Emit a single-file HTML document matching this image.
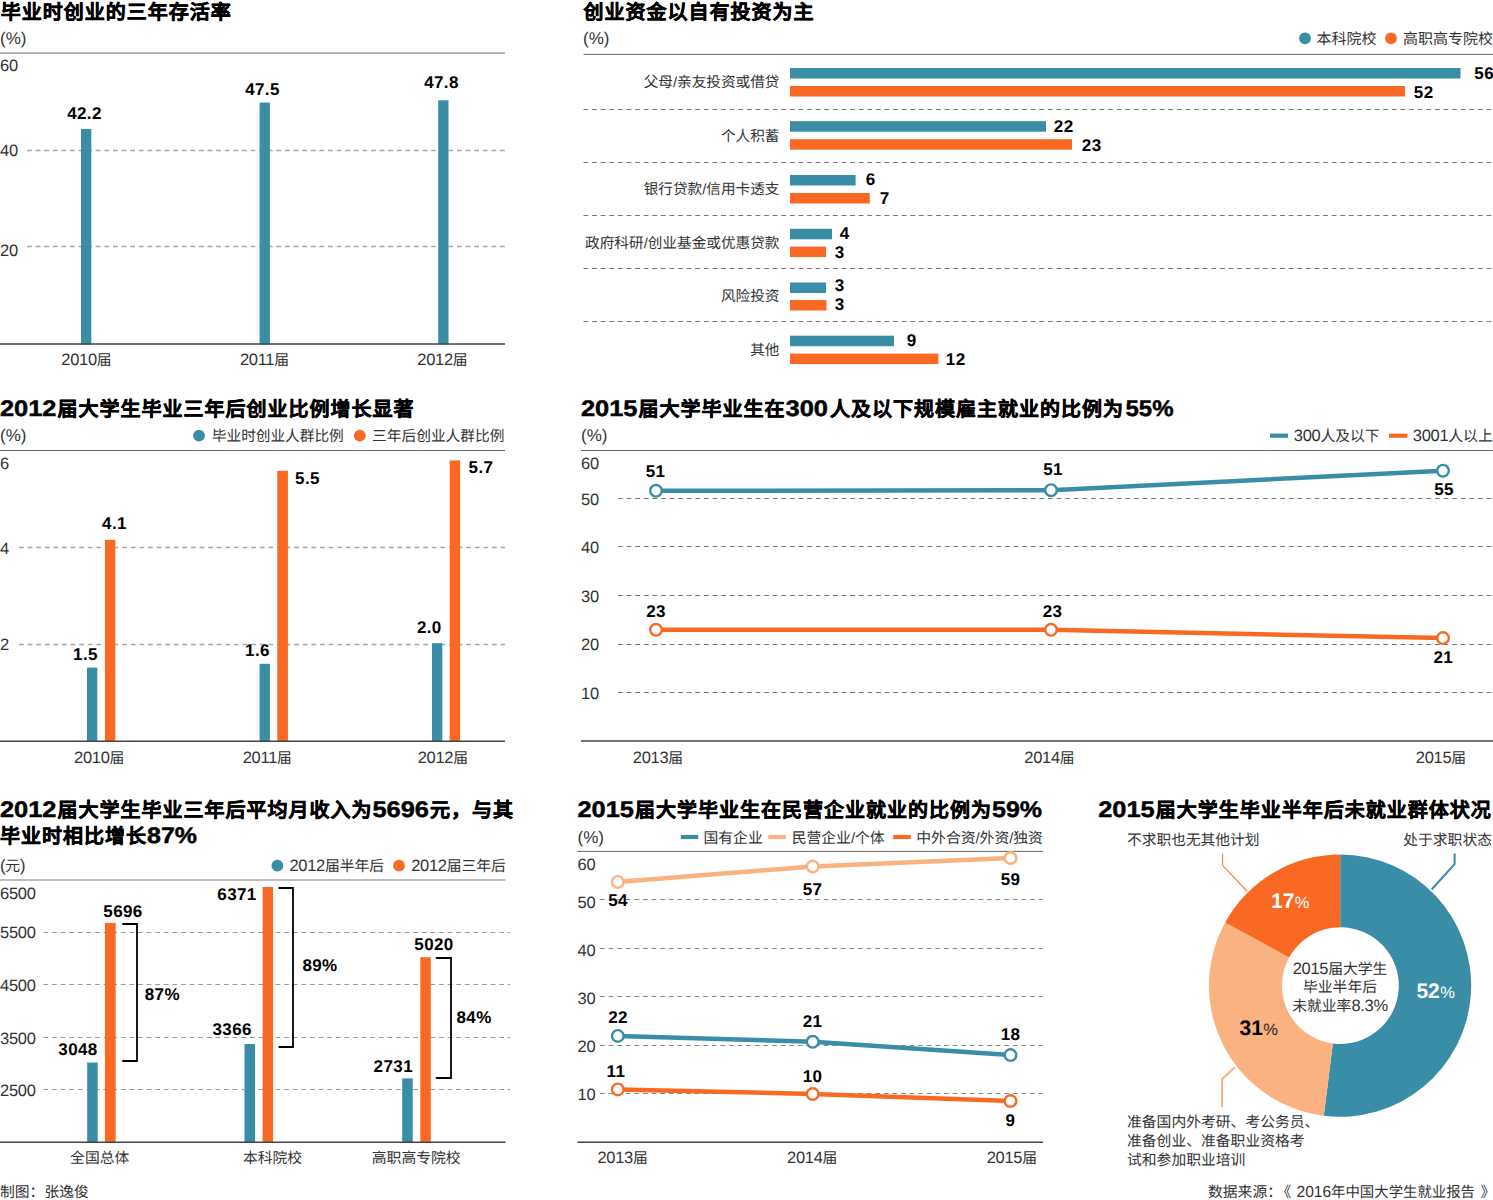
<!DOCTYPE html>
<html lang="zh-CN">
<head>
<meta charset="utf-8">
<title>大学生就业与创业图表</title>
<style>
html,body{margin:0;padding:0;background:#fff;}
body{width:1493px;height:1200px;overflow:hidden;font-family:"Liberation Sans",sans-serif;}
svg{display:block;position:absolute;left:0;top:0;}
text{font-family:"Liberation Sans",sans-serif;text-rendering:geometricPrecision;}
.t{font-weight:bold;font-size:20px;fill:#000;letter-spacing:1px;stroke:#000;stroke-width:0.45px;}
.n{font-size:22.5px;letter-spacing:0;}
.a{font-size:16.5px;fill:#333;letter-spacing:-0.3px;}
.c{font-size:14.8px;fill:#333;letter-spacing:0;}
.c2{font-size:14.65px;fill:#333;}
.p{font-size:17px;fill:#333;}
.v{font-weight:bold;font-size:17px;fill:#000;letter-spacing:0.4px;}
.m{text-anchor:middle;}
.e{text-anchor:end;}
.g{stroke:#777;stroke-width:1;stroke-dasharray:4.8 3.8;fill:none;}
#p1 .g,#p3 .g{stroke:#a8a8a8;stroke-width:1.4;}
#p5 .g{stroke:#9a9a9a;stroke-width:1.2;}
#p6 .g{stroke:#888;}
.r{stroke:#666;stroke-width:1;fill:none;}
.r2{stroke:#a8a8a8;stroke-width:1.7;fill:none;}
.x{stroke:#444;stroke-width:1.6;fill:none;}
.b{fill:#3a8da6;}
.o{fill:#fa6923;}
.l{fill:#fab280;}
.k{stroke:#000;stroke-width:1.8;fill:none;stroke-linejoin:miter;}
</style>
</head>
<body>
<svg width="1493" height="1200" viewBox="0 0 1493 1200">
<rect x="0" y="0" width="1493" height="1200" fill="#fff"/>

<!-- ============ Panel 1: 三年存活率 ============ -->
<g id="p1">
<text class="t" x="0.8" y="18.5">毕业时创业的三年存活率</text>
<text class="p" x="0" y="44">(%)</text>
<line class="r2" x1="0" y1="53.2" x2="505" y2="53.2"/>
<line class="g" x1="27" y1="150.5" x2="505" y2="150.5"/>
<line class="g" x1="27" y1="246.5" x2="505" y2="246.5"/>
<text class="a" x="0" y="71">60</text>
<text class="a" x="0" y="156">40</text>
<text class="a" x="0" y="256">20</text>
<rect class="b" x="81" y="129" width="10.3" height="215.5"/>
<rect class="b" x="259.6" y="102.6" width="10.3" height="242"/>
<rect class="b" x="438.2" y="100.3" width="10.3" height="244"/>
<line class="x" x1="0" y1="344" x2="505" y2="344"/>
<text class="v m" x="84.5" y="118.5">42.2</text>
<text class="v m" x="262.5" y="94.5">47.5</text>
<text class="v m" x="441.5" y="87.5">47.8</text>
<text class="a m" x="86.5" y="365">2010<tspan class="c">届</tspan></text>
<text class="a m" x="264.5" y="365">2011<tspan class="c">届</tspan></text>
<text class="a m" x="442.5" y="365">2012<tspan class="c">届</tspan></text>
</g>

<!-- ============ Panel 2: 创业资金 ============ -->
<g id="p2">
<text class="t" x="583.5" y="18.5">创业资金以自有投资为主</text>
<text class="p" x="583" y="44">(%)</text>
<circle class="b" cx="1305" cy="38.3" r="5.9"/>
<text class="c" x="1316.5" y="43.5" style="font-size:15px">本科院校</text>
<circle class="o" cx="1391" cy="38.3" r="5.9"/>
<text class="c" x="1403" y="43.5" style="font-size:15px">高职高专院校</text>
<line class="r" x1="583.5" y1="54.4" x2="1493" y2="54.4"/>
<line class="g" x1="583.5" y1="109.5" x2="1493" y2="109.5"/>
<line class="g" x1="583.5" y1="162.5" x2="1493" y2="162.5"/>
<line class="g" x1="583.5" y1="215.5" x2="1493" y2="215.5"/>
<line class="g" x1="583.5" y1="268.5" x2="1493" y2="268.5"/>
<line class="g" x1="583.5" y1="321.5" x2="1493" y2="321.5"/>

<rect class="b" x="790" y="68" width="670.5" height="10.5"/>
<rect class="o" x="790" y="86" width="615" height="10.5"/>
<rect class="b" x="790" y="121.2" width="256" height="10.5"/>
<rect class="o" x="790" y="139.2" width="282" height="10.5"/>
<rect class="b" x="790" y="175" width="65.6" height="10.5"/>
<rect class="o" x="790" y="193" width="79.8" height="10.5"/>
<rect class="b" x="790" y="228.8" width="42" height="10.5"/>
<rect class="o" x="790" y="246.6" width="36" height="10.5"/>
<rect class="b" x="790" y="282.5" width="36" height="10.5"/>
<rect class="o" x="790" y="300" width="36.5" height="10.5"/>
<rect class="b" x="790" y="335.7" width="104" height="10.5"/>
<rect class="o" x="790" y="353.6" width="148.4" height="10.5"/>

<text class="v" x="1474.3" y="78.6">56</text>
<text class="v" x="1413.8" y="97.6">52</text>
<text class="v" x="1053.8" y="131.6">22</text>
<text class="v" x="1081.8" y="150.6">23</text>
<text class="v" x="865.8" y="185.1">6</text>
<text class="v" x="879.8" y="204.1">7</text>
<text class="v" x="839.8" y="239.1">4</text>
<text class="v" x="834.8" y="258.1">3</text>
<text class="v" x="834.8" y="291.1">3</text>
<text class="v" x="834.8" y="310.1">3</text>
<text class="v" x="906.8" y="346.1">9</text>
<text class="v" x="945.8" y="365.1">12</text>

<text class="c2 e" x="779.5" y="87">父母/亲友投资或借贷</text>
<text class="c2 e" x="779.5" y="140.5">个人积蓄</text>
<text class="c2 e" x="779.5" y="194">银行贷款/信用卡透支</text>
<text class="c2 e" x="779.5" y="247.5">政府科研/创业基金或优惠贷款</text>
<text class="c2 e" x="779.5" y="301">风险投资</text>
<text class="c2 e" x="779.5" y="354.5">其他</text>
</g>

<!-- ============ Panel 3: 创业比例 ============ -->
<g id="p3">
<text class="t" x="0" y="415.5"><tspan class="n" textLength="56.5" lengthAdjust="spacingAndGlyphs">2012</tspan><tspan x="57.5">届大学生毕业三年后创业比例增长显著</tspan></text>
<text class="p" x="0" y="441">(%)</text>
<circle class="b" cx="199" cy="435.6" r="5.9"/>
<text class="c" x="211.8" y="441" textLength="132" lengthAdjust="spacingAndGlyphs">毕业时创业人群比例</text>
<circle class="o" cx="359.8" cy="435.6" r="5.9"/>
<text class="c" x="372" y="441" textLength="132.5" lengthAdjust="spacingAndGlyphs">三年后创业人群比例</text>
<line class="r" x1="0" y1="450.5" x2="505" y2="450.5"/>
<line class="g" x1="19" y1="547.5" x2="505" y2="547.5"/>
<line class="g" x1="19" y1="644.5" x2="505" y2="644.5"/>
<text class="a" x="0" y="468.5">6</text>
<text class="a" x="0" y="553.5">4</text>
<text class="a" x="0" y="650">2</text>
<rect class="b" x="87" y="667.6" width="10.3" height="73.5"/>
<rect class="o" x="104.9" y="539.8" width="10.4" height="201.3"/>
<rect class="b" x="259.6" y="663.8" width="10.3" height="77.3"/>
<rect class="o" x="277.3" y="470.8" width="10.6" height="270.3"/>
<rect class="b" x="432" y="643.2" width="10.3" height="98"/>
<rect class="o" x="449.7" y="460.4" width="10.4" height="280.7"/>
<line class="x" x1="0" y1="741.3" x2="505" y2="741.3"/>
<text class="v m" x="85.5" y="660">1.5</text>
<text class="v m" x="114.5" y="529">4.1</text>
<text class="v m" x="257.5" y="656.3">1.6</text>
<text class="v m" x="307.5" y="483.7">5.5</text>
<text class="v m" x="429.3" y="632.8">2.0</text>
<text class="v m" x="481" y="472.5">5.7</text>
<text class="a m" x="99.2" y="763">2010<tspan class="c">届</tspan></text>
<text class="a m" x="267.3" y="763">2011<tspan class="c">届</tspan></text>
<text class="a m" x="442.8" y="763">2012<tspan class="c">届</tspan></text>
</g>

<!-- ============ Panel 4: 300人及以下 ============ -->
<g id="p4">
<text class="t" x="581" y="415.5"><tspan class="n" textLength="56.5" lengthAdjust="spacingAndGlyphs">2015</tspan><tspan x="638.5">届大学毕业生在</tspan><tspan x="785.5" class="n" textLength="42.5" lengthAdjust="spacingAndGlyphs">300</tspan><tspan x="830">人及以下规模雇主就业的比例为</tspan><tspan x="1125.5" class="n" textLength="48" lengthAdjust="spacingAndGlyphs">55%</tspan></text>
<text class="p" x="581" y="441">(%)</text>
<line x1="1270" y1="435.7" x2="1288" y2="435.7" stroke="#3a8da6" stroke-width="4.2"/>
<text class="a" x="1293.8" y="441.3">300<tspan class="c">人及以下</tspan></text>
<line x1="1389" y1="435.7" x2="1407.5" y2="435.7" stroke="#fa6923" stroke-width="4.2"/>
<text class="a" x="1412.8" y="441.3">3001<tspan class="c">人以上</tspan></text>
<line class="r" x1="581" y1="450.5" x2="1493" y2="450.5"/>
<line class="g" x1="618" y1="498.5" x2="1493" y2="498.5"/>
<line class="g" x1="618" y1="546.5" x2="1493" y2="546.5"/>
<line class="g" x1="618" y1="595.5" x2="1493" y2="595.5"/>
<line class="g" x1="618" y1="644.5" x2="1493" y2="644.5"/>
<line class="g" x1="618" y1="692.5" x2="1493" y2="692.5"/>
<text class="a" x="581" y="468.5">60</text>
<text class="a" x="581" y="504.5">50</text>
<text class="a" x="581" y="553">40</text>
<text class="a" x="581" y="601.5">30</text>
<text class="a" x="581" y="650">20</text>
<text class="a" x="581" y="698.5">10</text>
<line class="x" x1="581" y1="741" x2="1493" y2="741"/>
<polyline points="656,490.8 1051,490.2 1443,470.7" fill="none" stroke="#3a8da6" stroke-width="4.5" stroke-linejoin="round"/>
<polyline points="656,629.8 1051,629.8 1443,638.1" fill="none" stroke="#fa6923" stroke-width="4.5" stroke-linejoin="round"/>
<g fill="#fff" stroke="#3a8da6" stroke-width="2.4">
<circle cx="656" cy="490.8" r="5.8"/><circle cx="1051" cy="490.2" r="5.8"/><circle cx="1443" cy="470.7" r="5.8"/>
</g>
<g fill="#fff" stroke="#fa6923" stroke-width="2.4">
<circle cx="656" cy="629.8" r="5.8"/><circle cx="1051" cy="629.8" r="5.8"/><circle cx="1443" cy="638.1" r="5.8"/>
</g>
<text class="v m" x="655.5" y="477">51</text>
<text class="v m" x="1053" y="475.2">51</text>
<text class="v m" x="1444" y="494.8">55</text>
<text class="v m" x="656" y="617">23</text>
<text class="v m" x="1052.5" y="617.2">23</text>
<text class="v m" x="1443.3" y="662.8">21</text>
<text class="a m" x="658" y="763">2013<tspan class="c">届</tspan></text>
<text class="a m" x="1049.5" y="763">2014<tspan class="c">届</tspan></text>
<text class="a m" x="1441" y="763">2015<tspan class="c">届</tspan></text>
</g>

<!-- ============ Panel 5: 平均月收入 ============ -->
<g id="p5">
<text class="t" x="0" y="817.4"><tspan class="n" textLength="56.5" lengthAdjust="spacingAndGlyphs">2012</tspan><tspan x="57.5">届大学生毕业三年后平均月收入为</tspan><tspan x="372.5" class="n" textLength="56.5" lengthAdjust="spacingAndGlyphs">5696</tspan><tspan x="430">元，与其</tspan></text>
<text class="t" x="0" y="842.6">毕业时相比增长<tspan x="147" class="n" textLength="50" lengthAdjust="spacingAndGlyphs">87%</tspan></text>
<text class="a" x="0" y="871">(<tspan class="c">元</tspan>)</text>
<circle class="b" cx="277.4" cy="865.7" r="5.9"/>
<text class="a" x="289.4" y="871">2012<tspan class="c">届半年后</tspan></text>
<circle class="o" cx="399" cy="865.7" r="5.9"/>
<text class="a" x="411.2" y="871">2012<tspan class="c">届三年后</tspan></text>
<line class="r2" x1="0" y1="880" x2="505.5" y2="880"/>
<line class="g" x1="43.4" y1="932.5" x2="510" y2="932.5"/>
<line class="g" x1="43.4" y1="984.5" x2="510" y2="984.5"/>
<line class="g" x1="43.4" y1="1037.5" x2="510" y2="1037.5"/>
<line class="g" x1="43.4" y1="1089.5" x2="510" y2="1089.5"/>
<text class="a" x="0" y="898.5">6500</text>
<text class="a" x="0" y="938.3">5500</text>
<text class="a" x="0" y="991">4500</text>
<text class="a" x="0" y="1043.5">3500</text>
<text class="a" x="0" y="1095.7">2500</text>
<rect class="b" x="87.2" y="1062.5" width="10.5" height="80"/>
<rect class="o" x="104.9" y="922.9" width="10.8" height="219.6"/>
<rect class="b" x="244.5" y="1044" width="10.5" height="98.5"/>
<rect class="o" x="262.6" y="887" width="10.5" height="255.5"/>
<rect class="b" x="402.2" y="1078.4" width="10.5" height="64"/>
<rect class="o" x="420.3" y="957.2" width="10.5" height="185.3"/>
<line class="x" x1="0" y1="1142.3" x2="505.5" y2="1142.3"/>
<polyline class="k" points="122.3,924 137,924 137,1061 122.3,1061"/>
<polyline class="k" points="278.5,888 293,888 293,1047 278.5,1047"/>
<polyline class="k" points="435.8,958 451,958 451,1078 435.8,1078"/>
<text class="v m" x="123" y="917.2">5696</text>
<text class="v m" x="78" y="1055">3048</text>
<text class="v" x="144.7" y="1000.4">87%</text>
<text class="v m" x="237" y="900.2">6371</text>
<text class="v m" x="232.2" y="1035">3366</text>
<text class="v" x="302.4" y="971.4">89%</text>
<text class="v m" x="434" y="949.7">5020</text>
<text class="v m" x="393.3" y="1072">2731</text>
<text class="v" x="456.5" y="1023">84%</text>
<text class="c m" x="99.7" y="1162.8">全国总体</text>
<text class="c m" x="272.5" y="1162.8">本科院校</text>
<text class="c m" x="416.2" y="1162.8">高职高专院校</text>
<text class="c" x="0" y="1197">制图：张逸俊</text>
</g>

<!-- ============ Panel 6: 民营企业 ============ -->
<g id="p6">
<text class="t" x="577.5" y="817.4"><tspan class="n" textLength="56.5" lengthAdjust="spacingAndGlyphs">2015</tspan><tspan x="635">届大学毕业生在民营企业就业的比例为</tspan><tspan x="992" class="n" textLength="50" lengthAdjust="spacingAndGlyphs">59%</tspan></text>
<text class="p" x="577.5" y="842.5">(%)</text>
<line x1="680.8" y1="837" x2="698.3" y2="837" stroke="#3a8da6" stroke-width="4.2"/>
<text class="c" x="703.5" y="842.5">国有企业</text>
<line x1="768.3" y1="837" x2="785.8" y2="837" stroke="#fab280" stroke-width="4.2"/>
<text class="c" x="791.7" y="842.5">民营企业/个体</text>
<line x1="893.2" y1="837" x2="910.7" y2="837" stroke="#fa6923" stroke-width="4.2"/>
<text class="c" x="916.3" y="842.5">中外合资/外资/独资</text>
<line class="r" x1="577.3" y1="851.4" x2="1043" y2="851.4"/>
<line class="g" x1="600" y1="899.5" x2="1043" y2="899.5"/>
<line class="g" x1="600" y1="948.5" x2="1043" y2="948.5"/>
<line class="g" x1="600" y1="996.5" x2="1043" y2="996.5"/>
<line class="g" x1="600" y1="1045.5" x2="1043" y2="1045.5"/>
<line class="g" x1="600" y1="1093.5" x2="1043" y2="1093.5"/>
<text class="a" x="577.5" y="870">60</text>
<text class="a" x="577.5" y="907.5">50</text>
<text class="a" x="577.5" y="955.5">40</text>
<text class="a" x="577.5" y="1003.8">30</text>
<text class="a" x="577.5" y="1052.2">20</text>
<text class="a" x="577.5" y="1100.2">10</text>
<line class="x" x1="577.5" y1="1142.3" x2="1043" y2="1142.3"/>
<polyline points="617.8,881.9 812.7,866.5 1010.5,858" fill="none" stroke="#fab280" stroke-width="4.5" stroke-linejoin="round"/>
<polyline points="617.8,1035.9 812.7,1041.8 1010.5,1055.1" fill="none" stroke="#3a8da6" stroke-width="4.5" stroke-linejoin="round"/>
<polyline points="617.8,1089.4 812.7,1094 1010.5,1101" fill="none" stroke="#fa6923" stroke-width="4.5" stroke-linejoin="round"/>
<g fill="#fff" stroke="#fab280" stroke-width="2.4">
<circle cx="617.8" cy="881.9" r="5.8"/><circle cx="812.7" cy="866.5" r="5.8"/><circle cx="1010.5" cy="858" r="5.8"/>
</g>
<g fill="#fff" stroke="#3a8da6" stroke-width="2.4">
<circle cx="617.8" cy="1035.9" r="5.8"/><circle cx="812.7" cy="1041.8" r="5.8"/><circle cx="1010.5" cy="1055.1" r="5.8"/>
</g>
<g fill="#fff" stroke="#fa6923" stroke-width="2.4">
<circle cx="617.8" cy="1089.4" r="5.8"/><circle cx="812.7" cy="1094" r="5.8"/><circle cx="1010.5" cy="1101" r="5.8"/>
</g>
<text class="v m" x="618" y="906.2">54</text>
<text class="v m" x="812.5" y="895.2">57</text>
<text class="v m" x="1010.5" y="885.2">59</text>
<text class="v m" x="618" y="1022.8">22</text>
<text class="v m" x="812.5" y="1027">21</text>
<text class="v m" x="1010.5" y="1040.2">18</text>
<text class="v m" x="616" y="1076.7">11</text>
<text class="v m" x="812.5" y="1082.2">10</text>
<text class="v m" x="1010.5" y="1126">9</text>
<text class="a m" x="622.6" y="1162.8">2013<tspan class="c">届</tspan></text>
<text class="a m" x="812.2" y="1162.8">2014<tspan class="c">届</tspan></text>
<text class="a m" x="1011.8" y="1162.8">2015<tspan class="c">届</tspan></text>
</g>

<!-- ============ Panel 7: 未就业群体 ============ -->
<g id="p7">
<text class="t" x="1098.2" y="817.4"><tspan class="n" textLength="56.5" lengthAdjust="spacingAndGlyphs">2015</tspan><tspan x="1155.7">届大学生毕业半年后未就业群体状况</tspan></text>
<text class="c" x="1127" y="845" textLength="132.5" lengthAdjust="spacingAndGlyphs">不求职也无其他计划</text>
<text class="c e" x="1492" y="845">处于求职状态</text>
<path class="b" d="M1340.2,854.4 A131.2,131.2 0 1 1 1323.8,1115.8 L1332.9,1043.4 A58.3,58.3 0 1 0 1340.2,927.3 Z"/>
<path class="l" d="M1323.8,1115.8 A131.2,131.2 0 0 1 1225.2,922.4 L1289.1,957.5 A58.3,58.3 0 0 0 1332.9,1043.4 Z"/>
<path class="o" d="M1225.2,922.4 A131.2,131.2 0 0 1 1340.2,854.4 L1340.2,927.3 A58.3,58.3 0 0 0 1289.1,957.5 Z"/>
<polyline points="1454.6,853.5 1454.6,864.2 1431.6,889.5" fill="none" stroke="#3a8da6" stroke-width="2"/>
<polyline points="1222.6,853.5 1222.6,865.4 1247.3,891.5" fill="none" stroke="#f47a45" stroke-width="1.1"/>
<polyline points="1222.1,1107 1222.1,1079.3 1234.7,1067.2" fill="none" stroke="#fab280" stroke-width="2"/>
<text x="1271" y="908.4" fill="#fff" font-weight="bold" font-size="21">17<tspan font-weight="normal" font-size="16.5" dx="0.5">%</tspan></text>
<text x="1416.4" y="998.3" fill="#fff" font-weight="bold" font-size="21">52<tspan font-weight="normal" font-size="16.5" dx="0.5">%</tspan></text>
<text x="1239.5" y="1035.3" fill="#000" font-weight="bold" font-size="21">31<tspan font-weight="normal" font-size="16.5" dx="0.5" fill="#222">%</tspan></text>
<text class="a m" x="1340" y="973.5">2015<tspan class="c">届大学生</tspan></text>
<text class="c m" x="1340" y="991.7">毕业半年后</text>
<text class="c m" x="1340" y="1011">未就业率<tspan class="a">8.3%</tspan></text>
<text class="c" x="1127" y="1126.5">准备国内外考研、考公务员、</text>
<text class="c" x="1127" y="1146">准备创业、准备职业资格考</text>
<text class="c" x="1127" y="1165.3">试和参加职业培训</text>
<text class="c" x="1208" y="1196.5">数据来源：<tspan x="1276.5">《</tspan><tspan x="1480.5">》</tspan></text>
<text class="c" x="1296.5" y="1196.5" textLength="178.5" lengthAdjust="spacingAndGlyphs"><tspan font-size="16">2016</tspan>年中国大学生就业报告</text>
</g>
</svg>
</body>
</html>
